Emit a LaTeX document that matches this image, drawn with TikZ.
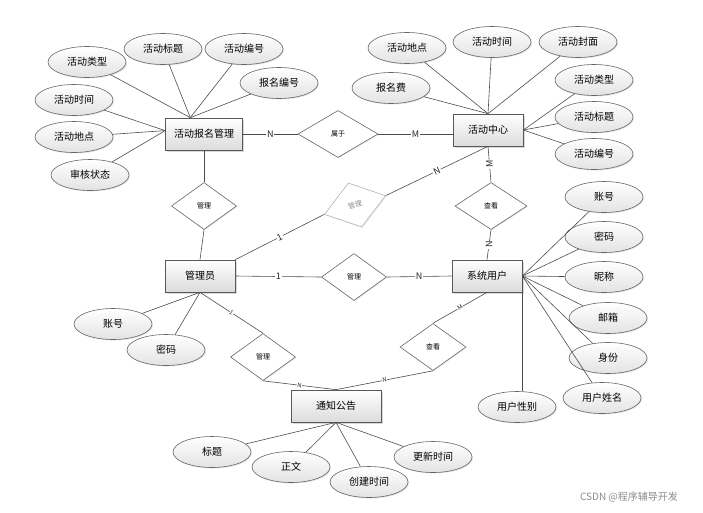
\documentclass[tikz,border=0pt]{standalone}
\usepackage{fontspec}
\setmainfont{Noto Sans CJK SC}
\usetikzlibrary{positioning, quotes, shapes.geometric, shadows}
\tikzset{
every edge quotes/.style = {fill = white, inner sep = 0.8pt, text = black!85,
   font = \fontsize{9}{9}\selectfont},
entity/.style = {rectangle, draw = black!65, line width = 0.7pt, top color = white,
   bottom color = black!14, minimum height = 32pt, inner sep = 2pt,
   drop shadow = {opacity = 0.3, shadow xshift = 1.5pt, shadow yshift = -1.5pt},
   font = \fontsize{10}{10}\selectfont},
attribute/.style = {ellipse, draw = black!60, line width = 0.6pt, top color = white,
   bottom color = black!11, minimum width = 78pt, minimum height = 31pt, inner sep = 0pt,
   drop shadow = {opacity = 0.2, shadow xshift = 1pt, shadow yshift = -1pt},
   font = \fontsize{10}{10}\selectfont},
relation/.style = {diamond, draw = black!60, line width = 0.6pt, fill = white,
   minimum width = 65pt, minimum height = 47pt, inner sep = 0pt,
   drop shadow = {opacity = 0.15, shadow xshift = 1pt, shadow yshift = -1pt},
   font = \fontsize{7}{7}\selectfont},
link/.style = {draw = black!70, line width = 0.6pt},
smalllabel/.style = {sloped, inner sep = 0.3pt, font = \fontsize{6}{6}\selectfont}
}
\begin{document}
\begin{tikzpicture}[x = 1pt, y = -1pt]
\useasboundingbox (0,0) rectangle (703,512);

%% The entities
\node [entity, minimum width = 77pt] (apply) at (204,134) {活动报名管理};
\node [entity, minimum width = 70pt] (center) at (488,130) {活动中心};
\node [entity, minimum width = 70pt] (admin) at (200,276) {管理员};
\node [entity, minimum width = 70pt] (system) at (487,276) {系统用户};
\node [entity, minimum width = 90pt] (notice) at (336,406) {通知公告};

%% Attributes of the registration
\node [attribute] (a1) at (87,62) {活动类型};
\node [attribute] (a2) at (163,49) {活动标题};
\node [attribute] (a3) at (244,49) {活动编号};
\node [attribute] (a4) at (279,83) {报名编号};
\node [attribute] (a5) at (74,100) {活动时间};
\node [attribute] (a6) at (74,137) {活动地点};
\node [attribute] (a7) at (90,175) {审核状态};

\path [link] (a1) edge (apply.130);
\path [link] (a2) edge (apply.130);
\path [link] (a3) edge (apply.130);
\path [link] (a4) edge (apply.130);
\path [link] (a5) edge (apply.175);
\path [link] (a6) edge (apply.175);
\path [link] (a7) edge (apply.175);

%% Attributes of the activity centre
\node [attribute] (c1) at (407,48) {活动地点};
\node [attribute] (c2) at (492,42) {活动时间};
\node [attribute] (c3) at (578,42) {活动封面};
\node [attribute] (c4) at (391,88) {报名费};
\node [attribute] (c5) at (594,80) {活动类型};
\node [attribute] (c6) at (594,117) {活动标题};
\node [attribute] (c7) at (594,154) {活动编号};

\path [link] (c1) edge (center.north);
\path [link] (c2) edge (center.north);
\path [link] (c3) edge (center.north);
\path [link] (c4) edge (center.north);
\path [link] (c5) edge (center.east);
\path [link] (c6) edge (center.east);
\path [link] (c7) edge (center.east);

%% Attributes of the users
\node [attribute] (u1) at (604,197) {账号};
\node [attribute] (u2) at (604,237) {密码};
\node [attribute] (u3) at (604,277) {昵称};
\node [attribute] (u4) at (608,318) {邮箱};
\node [attribute] (u5) at (608,358) {身份};
\node [attribute] (u6) at (602,398) {用户姓名};
\node [attribute] (u7) at (517,407) {用户性别};

\path [link] (system.east) edge (u1);
\path [link] (system.east) edge (u2);
\path [link] (system.east) edge (u3);
\path [link] (system.east) edge (u4);
\path [link] (system.east) edge (u5);
\path [link] (system.east) edge (u6);
\path [link] (system.east) edge (system.east |- u7.north);

%% Attributes of the administrator
\node [attribute] (m1) at (113,324) {账号};
\node [attribute] (m2) at (166,350) {密码};

\path [link] (m1) edge (admin.south);
\path [link] (m2) edge (admin.south);

%% Attributes of the notices
\node [attribute] (n1) at (212,452) {标题};
\node [attribute] (n2) at (291,467) {正文};
\node [attribute] (n3) at (369,482) {创建时间};
\node [attribute] (n4) at (433,457) {更新时间};

\path [link] (n1) edge (notice.south);
\path [link] (n2) edge (notice.south);
\path [link] (n3) edge (notice.south);
\path [link] (n4) edge (notice.south);

%% Relationships
\node [relation, minimum width = 80pt] (belong) at (338,134) {属于};
\node [relation] (manage1) at (204,206) {管理};
\node [relation, draw = black!30, text = black!45, rotate = 17,
   minimum width = 64pt, minimum height = 46pt] (manage0) at (355,205) {管理};
\node [relation, minimum width = 72pt] (see1) at (491,206) {查看};
\node [relation] (manage2) at (354,277) {管理};
\node [relation] (manage3) at (263,357) {管理};
\node [relation, minimum width = 66pt] (see2) at (433,347) {查看};

\path [link] (apply.east) edge ["N"] (belong.west);
\path [link] (belong.east) edge ["M"] (belong.east -| center.west);

\path [link] (apply.south) edge (manage1.north);
\path [link] (manage1.south) edge (admin.north);

\path [link] (admin.north east) edge ["1" sloped] (manage0.west);
\path [link] (manage0.east) edge ["N" sloped] (center.south);

\path [link] (center.south) edge ["M" rotate=90] (see1.north);
\path [link] (see1.south) edge ["N" rotate=90] (system.north);

\path [link] (admin.east) edge ["1"] (manage2.west);
\path [link] (manage2.east) edge ["N"] (system.west);

\path [link] (admin.south) edge ["1" smalllabel] (manage3.north);
\path [link] (manage3.south) edge ["N" smalllabel] (notice.north);

\path [link] (system.south) edge ["M" smalllabel] (see2.north);
\path [link] (see2.south) edge ["N" smalllabel] (notice.north);

% Watermark
\node [text = black!45, font = \fontsize{10}{10}\selectfont] (mark) at (629,497) {CSDN @程序辅导开发};

\end{tikzpicture}
\end{document}
